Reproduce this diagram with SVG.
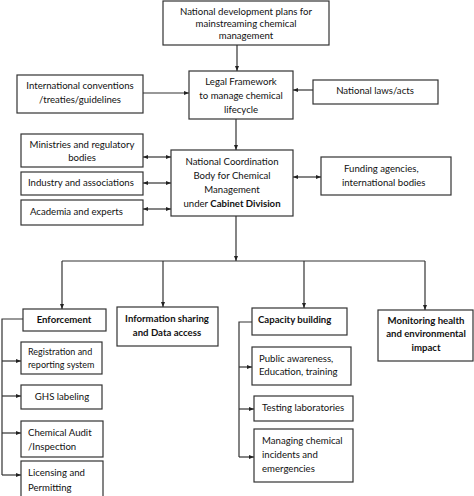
<svg xmlns="http://www.w3.org/2000/svg" width="474" height="496" viewBox="0 0 474 496">
<defs>
<marker id="ah" viewBox="0 0 10 10" refX="10" refY="5" markerWidth="5" markerHeight="5" orient="auto-start-reverse" markerUnits="userSpaceOnUse">
<path d="M0,1 L10,5 L0,9 z" fill="#222"/>
</marker>
<style>
rect{fill:#fff;stroke:#333;stroke-width:1.2}
text{font-family:Lato,"Liberation Sans",sans-serif;font-size:9.6px;fill:#111}
.c{text-anchor:middle}
.b{font-weight:bold}
.s{font-size:9px}
.ln{fill:none;stroke:#333;stroke-width:1.2}
.ar{fill:none;stroke:#333;stroke-width:1.2;marker-end:url(#ah)}
.da{fill:none;stroke:#333;stroke-width:1.2;marker-end:url(#ah);marker-start:url(#ah)}
</style>
</defs>
<rect x="0" y="0" width="474" height="496" style="fill:#fff;stroke:none"/>
<g id="connectors">
<path class="ar" d="M237,45 V71"/>
<path class="ar" d="M143,93 H189"/>
<path class="ar" d="M313,90 H293"/>
<path class="ar" d="M236,119 V150"/>
<path class="da" d="M143,157 H171"/>
<path class="da" d="M143,183 H171"/>
<path class="da" d="M143,209 H171"/>
<path class="da" d="M293,177 H321"/>
<path class="ar" d="M236,216 V261"/>
<path class="ln" d="M62,261 H425"/>
<path class="ar" d="M62,261 V309"/>
<path class="ar" d="M163,261 V307"/>
<path class="ar" d="M304,261 V308"/>
<path class="ar" d="M425,261 V310"/>
<path class="ln" d="M23,319 H2 V475"/>
<path class="ar" d="M2,361 H21"/>
<path class="ar" d="M2,396 H21"/>
<path class="ar" d="M2,433 H21"/>
<path class="ar" d="M2,475 H21"/>
<path class="ln" d="M252,322 H239 V457"/>
<path class="ar" d="M239,367 H252"/>
<path class="ar" d="M239,409 H254"/>
<path class="ar" d="M239,457 H254"/>
</g>
<g id="n-plans">
<rect x="163" y="1" width="166" height="44"/>
<text class="c" x="246" y="15">National development plans for</text>
<text class="c" x="246" y="27">mainstreaming chemical</text>
<text class="c" x="246" y="39">management</text>
</g>
<g id="n-legal">
<rect x="189" y="71" width="104" height="48"/>
<text class="c" x="241" y="85">Legal Framework</text>
<text class="c" x="241" y="99">to manage chemical</text>
<text class="c" x="241" y="113">lifecycle</text>
</g>
<g id="n-intl">
<rect x="17" y="75" width="126" height="38"/>
<text class="c" x="80" y="89">International conventions</text>
<text class="c" x="80" y="103">/treaties/guidelines</text>
</g>
<g id="n-natlaws">
<rect x="313" y="80" width="125" height="24"/>
<text class="c" x="375" y="94">National laws/acts</text>
</g>
<g id="n-coord">
<rect x="171" y="150" width="122" height="66"/>
<text class="c" x="232" y="165">National Coordination</text>
<text class="c" x="232" y="179">Body for Chemical</text>
<text class="c" x="232" y="193">Management</text>
<text class="c" x="232" y="207">under <tspan class="b">Cabinet Division</tspan></text>
</g>
<g id="n-ministries">
<rect x="21" y="134" width="122" height="33"/>
<text class="c" x="82" y="148">Ministries and regulatory</text>
<text class="c" x="82" y="161">bodies</text>
</g>
<g id="n-industry">
<rect x="21" y="172" width="122" height="23"/>
<text x="28" y="186">Industry and associations</text>
</g>
<g id="n-academia">
<rect x="21" y="200" width="122" height="25"/>
<text x="30" y="215">Academia and experts</text>
</g>
<g id="n-funding">
<rect x="321" y="157" width="130" height="38"/>
<text x="344" y="172">Funding agencies,</text>
<text x="342" y="186">international bodies</text>
</g>
<g id="n-enforcement">
<rect x="23" y="309" width="83" height="22"/>
<text class="c b" x="64" y="323">Enforcement</text>
</g>
<g id="n-info">
<rect x="117" y="307" width="101" height="39"/>
<text class="c b" x="167" y="322">Information sharing</text>
<text class="c b" x="167" y="336">and Data access</text>
</g>
<g id="n-capacity">
<rect x="252" y="308" width="95" height="27"/>
<text x="258" y="323" class="b">Capacity building</text>
</g>
<g id="n-monitoring">
<rect x="378" y="310" width="95" height="51"/>
<text class="c b" x="426" y="324">Monitoring health</text>
<text class="c b" x="426" y="337">and environmental</text>
<text class="c b" x="426" y="351">impact</text>
</g>
<g id="n-registration">
<rect x="21" y="342" width="81" height="32"/>
<text class="s" x="28" y="355">Registration and</text>
<text class="s" x="28" y="368">reporting system</text>
</g>
<g id="n-ghs">
<rect x="21" y="385" width="81" height="24"/>
<text class="c" x="62" y="400">GHS labeling</text>
</g>
<g id="n-audit">
<rect x="21" y="421" width="82" height="36"/>
<text x="28" y="436">Chemical Audit</text>
<text x="28" y="450">/Inspection</text>
</g>
<g id="n-licensing">
<rect x="21" y="461" width="82" height="40"/>
<text x="28" y="476">Licensing and</text>
<text x="28" y="491">Permitting</text>
</g>
<g id="n-public">
<rect x="252" y="347" width="99" height="38"/>
<text x="259" y="362">Public awareness,</text>
<text x="259" y="375">Education, training</text>
</g>
<g id="n-testing">
<rect x="254" y="396" width="99" height="25"/>
<text x="262" y="411">Testing laboratories</text>
</g>
<g id="n-managing">
<rect x="254" y="429" width="99" height="53"/>
<text x="262" y="444">Managing chemical</text>
<text x="262" y="458">incidents and</text>
<text x="262" y="472">emergencies</text>
</g>
</svg>
